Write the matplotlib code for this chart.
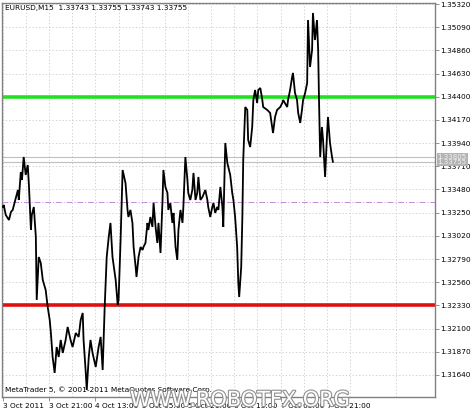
import matplotlib
matplotlib.use("Agg")
import matplotlib.pyplot as plt
import matplotlib.patheffects as pe

# hours since 3 Oct 2011 05:00 (M15 chart, EURUSD)
hours = [
    0.0, 0.3, 1.0, 2.1, 2.8, 3.4, 4.5, 5.2, 5.5, 6.2, 6.6, 7.2, 7.9, 8.6, 9.0,
    9.7, 10.0, 10.7, 11.4, 11.7, 12.4, 13.1, 13.8, 14.8, 15.5, 16.2, 16.6, 17.2,
    17.9, 18.6, 19.3, 20.0, 20.7, 21.7, 22.4, 23.4, 24.1, 25.2, 26.2, 26.9, 27.6,
    27.9, 28.6, 29.0, 29.7, 30.3, 31.0, 32.1, 33.1, 33.8, 34.5, 35.2, 35.9, 36.6,
    37.2, 37.9, 39.0, 39.7, 40.0,
    40.7, 41.4, 42.4, 43.1, 43.4, 44.1, 44.8, 45.2, 45.9, 46.2, 46.9, 47.6, 48.3,
    48.6, 49.3, 50.0, 50.3, 51.0, 51.7, 52.1, 52.8, 53.4, 53.8, 54.5, 55.2, 55.5,
    56.2, 56.9, 57.2, 57.9, 58.6, 59.0, 59.7, 60.3, 60.7, 61.4, 62.1, 62.4, 63.1,
    63.8, 64.1, 64.8, 65.5, 65.9, 66.6, 67.2, 67.6, 68.3, 69.0, 70.0, 70.7, 71.0,
    71.7, 72.4, 72.8, 73.4, 74.1, 74.5, 75.2, 75.9, 76.2,
    76.9, 77.6, 78.6, 79.3, 79.7, 80.3, 81.0, 81.4, 81.7, 82.4, 82.8, 83.1, 83.8,
    84.5, 84.8, 85.5, 86.2, 86.6, 87.2, 87.9, 88.3, 89.0, 89.7, 90.0, 91.4, 92.4,
    93.1, 93.4, 94.1, 94.8, 95.9, 96.6, 96.9, 98.3, 98.6, 99.3, 100.0, 100.3,
    101.0, 101.7, 102.1, 102.8, 103.4, 103.8, 104.5, 105.2, 105.5, 106.2, 106.9,
    107.2, 107.9, 108.6, 109.0, 109.3, 109.7, 110.3, 110.7, 111.4, 112.1, 112.4,
    113.1, 113.8, 114.1,
]
price = [
    1.33306, 1.33326, 1.33227, 1.33177, 1.33257, 1.33277, 1.33396, 1.33475, 1.33376,
    1.33653, 1.33574, 1.33802, 1.33624, 1.33723, 1.33525, 1.33078, 1.33227, 1.33306,
    1.33009, 1.32384, 1.32810, 1.32751, 1.32582, 1.32483, 1.32314, 1.32185, 1.32056,
    1.31818, 1.31660, 1.31917, 1.31818, 1.31987, 1.31858, 1.31987, 1.32116, 1.31987,
    1.31917, 1.32056, 1.32017, 1.32185, 1.32255, 1.31987, 1.31689, 1.31491, 1.31818,
    1.31987, 1.31858, 1.31719, 1.31917, 1.32017, 1.31689, 1.32314, 1.32810, 1.33009,
    1.33148, 1.32810, 1.32582, 1.32334, 1.32384,
    1.32979, 1.33673, 1.33544, 1.33277, 1.33207, 1.33277, 1.33148, 1.32909, 1.32711,
    1.32612, 1.32810, 1.32909, 1.32880, 1.32909, 1.32949, 1.33148, 1.33078, 1.33207,
    1.33108, 1.33346, 1.33108, 1.32949, 1.33148, 1.32850, 1.33376, 1.33673, 1.33505,
    1.33445, 1.33277, 1.33346, 1.33148, 1.33247, 1.32909, 1.32781, 1.33078, 1.33277,
    1.33148, 1.33306, 1.33802, 1.33574, 1.33445, 1.33376, 1.33475, 1.33644, 1.33376,
    1.33445, 1.33604, 1.33376, 1.33405, 1.33475, 1.33376, 1.33306, 1.33207, 1.33306,
    1.33346, 1.33247, 1.33306, 1.33277, 1.33505, 1.33306, 1.33108,
    1.33941, 1.33743, 1.33624, 1.33445, 1.33376, 1.33207, 1.32909, 1.32552, 1.32413,
    1.32711, 1.33207, 1.33773, 1.34298, 1.34269, 1.33971, 1.33901, 1.34100, 1.34368,
    1.34467, 1.34338, 1.34467, 1.34487, 1.34368, 1.34298, 1.34269, 1.34239, 1.34100,
    1.34040, 1.34199, 1.34269, 1.34298, 1.34338, 1.34368, 1.34298, 1.34368, 1.34467,
    1.34596, 1.34636, 1.34437, 1.34368, 1.34239, 1.34140, 1.34269, 1.34368, 1.34437,
    1.34536, 1.35161, 1.34695, 1.34864, 1.35231, 1.34963, 1.35161, 1.34864, 1.34368,
    1.33802, 1.34100, 1.33971, 1.33604, 1.34040, 1.34199, 1.33941, 1.33802, 1.33755,
]

y_ticks = [1.31640, 1.31870, 1.32100, 1.32330, 1.32560, 1.32790, 1.33020, 1.33250,
           1.33480, 1.33710, 1.33940, 1.34170, 1.34400, 1.34630, 1.34860, 1.35090,
           1.35320]
x_ticks = [0, 16, 32, 48, 64, 80, 96, 112]
x_labels = ["3 Oct 2011", "3 Oct 21:00", "4 Oct 13:00", "5 Oct 05:00",
            "5 Oct 21:00", "6 Oct 13:00", "7 Oct 05:00", "7 Oct 21:00"]
grid_minor = [8, 24, 40, 56, 72, 88, 104, 120, 136]

resistance = 1.34400
support = 1.32330
middle = 1.33351
ask = 1.33805
bid = 1.33755

fig = plt.figure(figsize=(4.74, 4.13), dpi=100)
ax = fig.add_axes([2/474, 1 - 397/413, 433/474, 394/413])

ax.set_xlim(-0.3, 149.4)
ax.set_ylim(1.31421, 1.35330)

# grid
ax.set_yticks(y_ticks)
ax.set_yticklabels([f"{v:.5f}" for v in y_ticks])
ax.set_xticks(x_ticks)
ax.set_xticklabels(x_labels, ha="left")
ax.set_xticks(grid_minor, minor=True)
ax.grid(True, which="both", color="#c8c8c8", linestyle=(0, (1.5, 2.5)), linewidth=0.6)
ax.tick_params(axis="x", which="minor", length=0)
ax.yaxis.tick_right()
ax.tick_params(axis="both", which="major", labelsize=5.3, length=3, width=0.6,
               color="#808080", pad=1, labelcolor="black")
ax.set_axisbelow(True)
for s in ax.spines.values():
    s.set_color("#808080")
    s.set_linewidth(1)

# levels
ax.axhline(resistance, color="#22e022", lw=2.6, zorder=2)
ax.axhline(support, color="#e01010", lw=2.6, zorder=2)
ax.axhline(middle, color="#c58ad8", lw=0.7, linestyle=(0, (6, 2, 1, 2)), zorder=2)
ax.axhline(ask, color="#c0c0c0", lw=0.8, zorder=2)
ax.axhline(bid, color="#c0c0c0", lw=0.8, zorder=2)

ax.plot(hours, price, color="black", lw=1.3, zorder=3, solid_joinstyle="miter")

ax.text(1.006, (ask + bid) / 2, f"{ask:.5f}\n{bid:.5f}", transform=ax.get_yaxis_transform(),
        fontsize=5, color="#f2f2f2", va="center", ha="left", linespacing=0.85,
        bbox=dict(boxstyle="square,pad=0.15", facecolor="#b4b4b4", edgecolor="none"),
        clip_on=False, zorder=5)

fig.text(5/474, 1 - 8/413, "EURUSD,M15  1.33743 1.33755 1.33743 1.33755",
         fontsize=5.3, va="center", ha="left")
fig.text(5/474, 1 - 390/413, "MetaTrader 5, \u00a9 2001-2011 MetaQuotes Software Corp.",
         fontsize=5.3, va="center", ha="left")

wm = fig.text(130/474, 1 - 400/413, "WWW.ROBOTFX.ORG", fontsize=15, color="white",
              va="center", ha="left", zorder=10)
wm.set_path_effects([pe.Stroke(linewidth=1.6, foreground="#909090"), pe.Normal()])

fig.savefig("out.png", dpi=100, facecolor="white")
